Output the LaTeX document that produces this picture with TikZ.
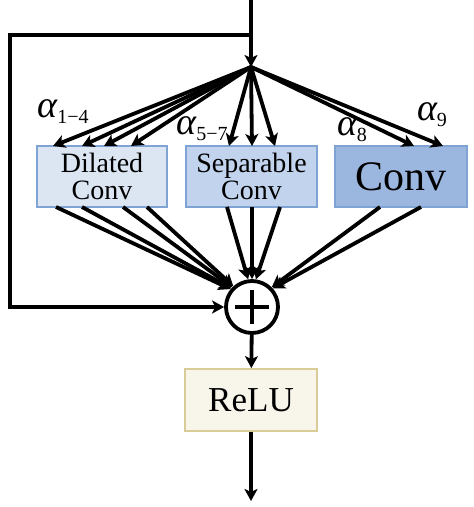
\documentclass[tikz,border=0pt]{standalone}
\usepackage{fontspec}
\setmainfont{Liberation Serif}
\usetikzlibrary{arrows.meta,calc}
\definecolor{dilfill}{HTML}{DCE6F3}
\definecolor{sepfill}{HTML}{C2D4ED}
\definecolor{convfill}{HTML}{9BB6DF}
\definecolor{boxline}{HTML}{7FA3D3}
\definecolor{relufill}{HTML}{F8F6EA}
\definecolor{reluline}{HTML}{D8CC98}
\tikzset{
  arr/.style={line width=3.8pt,-{Stealth[length=12pt,width=13pt,inset=3pt]}},
  opbox/.style={draw=boxline,line width=1.8pt,minimum height=61pt,inner sep=0pt,align=center},
  alab/.style={inner sep=0pt,anchor=center}
}
\newcommand{\alphalab}[1]{{\fontsize{38}{38}\selectfont\itshape α}\raisebox{-6pt}{\fontsize{20}{20}\selectfont #1}}
\begin{document}
\begin{tikzpicture}[x=1pt,y=-1pt]
\useasboundingbox (0,0) rectangle (474,507);
% boxes
\node[opbox,fill=dilfill,minimum width=130pt,font=\fontsize{28}{27}\selectfont] (dil) at (102,176.5) {Dilated\\Conv};
\node[opbox,fill=sepfill,minimum width=131pt,font=\fontsize{28}{27}\selectfont] (sep) at (251.5,176.5) {Separable\\Conv};
\node[opbox,fill=convfill,minimum width=132pt,font=\fontsize{42}{42}\selectfont] (conv) at (401,176.5) {Conv};
\node[draw=reluline,fill=relufill,line width=1.8pt,minimum width=132pt,minimum height=62pt,inner sep=0pt,font=\fontsize{35}{35}\selectfont] (relu) at (251,400) {ReLU};
\node[draw,circle,line width=3.8pt,minimum size=52pt,inner sep=0pt] (sum) at (252,307) {};
\draw[line width=4pt] ($(sum.center)+(-17,0)$) -- ($(sum.center)+(17,0)$);
\draw[line width=4pt] ($(sum.center)+(0,-17)$) -- ($(sum.center)+(0,17)$);
% coordinates
\coordinate (top) at (251,0);
\coordinate (split) at (251,35);
\coordinate (loopa) at (10,35);
\coordinate (loopb) at (10,307);
\coordinate (hub) at (251,67);
\coordinate (out) at (251,501);
% tips on box tops
\coordinate (d1t) at (53,146);
\coordinate (d2t) at (82,146);
\coordinate (d3t) at (104,146);
\coordinate (d4t) at (131,146);
\coordinate (s1t) at (229,146);
\coordinate (s2t) at (252,146);
\coordinate (s3t) at (275,146);
\coordinate (c1t) at (414,146);
\coordinate (c2t) at (443,146);
% starts on box bottoms
\coordinate (d1b) at (56,207);
\coordinate (d2b) at (82,207);
\coordinate (d3b) at (123,207);
\coordinate (d4b) at (147,207);
\coordinate (s1b) at (227,207);
\coordinate (s2b) at (252,207);
\coordinate (s3b) at (280,207);
\coordinate (c1b) at (380,207);
\coordinate (c2b) at (421,207);
% input and skip
\draw[arr] (top) -- (hub);
\draw[arr] (split) -- (loopa) -- (loopb) -- (sum.west);
% fan out
\foreach \t in {d1t,d2t,d3t,d4t,s1t,s2t,s3t,c1t,c2t}
  \draw[arr] (hub) -- (\t);
% fan in
\foreach \b/\a in {d1b/140,d2b/138,d3b/135,d4b/132}
  \draw[arr] (\b) -- (sum.\a);
\foreach \b/\a in {s1b/98,s2b/90,s3b/82}
  \draw[arr] (\b) -- (sum.\a);
\foreach \b/\a in {c1b/45,c2b/42}
  \draw[arr] (\b) -- (sum.\a);
% output
\draw[arr] (sum) -- (relu);
\draw[arr] (relu) -- (out);
% labels
\node[alab] (a14) at (63,112) {\alphalab{1−4}};
\node[alab] (a57) at (202,129) {\alphalab{5−7}};
\node[alab] (a8) at (352,130) {\alphalab{8}};
\node[alab] (a9) at (432,115) {\alphalab{9}};
\end{tikzpicture}
\end{document}
